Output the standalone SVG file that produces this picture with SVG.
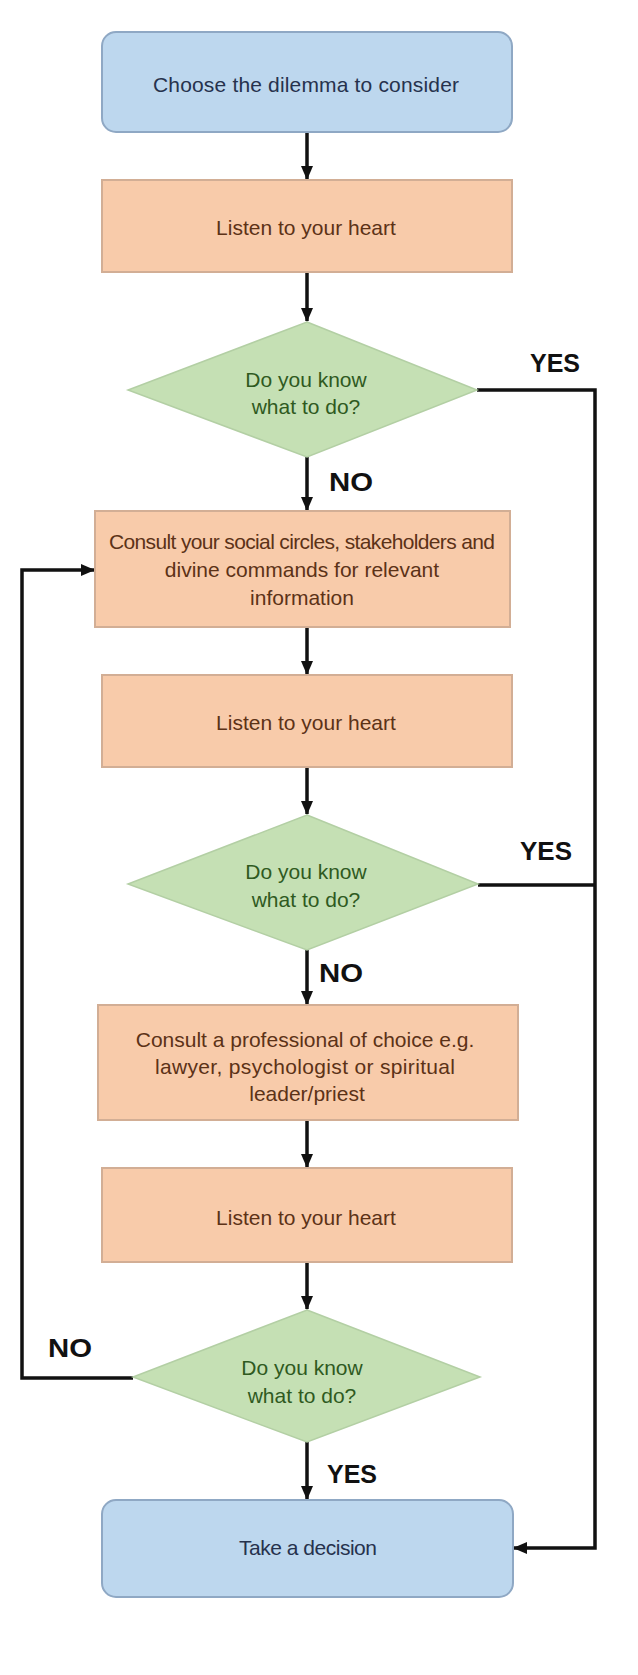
<svg xmlns="http://www.w3.org/2000/svg" width="638" height="1675" viewBox="0 0 638 1675">
<style>
.blue{fill:#bdd7ee;stroke:#8fa8c4;stroke-width:2}
.peach{fill:#f8cbaa;stroke:#d2ae95;stroke-width:2}
.green{fill:#c5e0b4;stroke:#b3cfa4;stroke-width:1.5}
.t{font-family:"Liberation Sans",Arial,sans-serif;font-size:21px;text-anchor:middle}
.tb{fill:#26324d}
.tp{fill:#5c3217}
.tg{fill:#2f5a1f}
.lbl{font-family:"Liberation Sans",Arial,sans-serif;font-size:26px;font-weight:bold;fill:#111}
.c{fill:none;stroke:#111;stroke-width:3.5}
</style>
<defs>
<marker id="ah" markerUnits="userSpaceOnUse" markerWidth="14" markerHeight="14" viewBox="0 0 14 14" refX="13" refY="7" orient="auto">
<path d="M0,1 L14,7 L0,13 Z" fill="#111"/>
</marker>
</defs>
<rect width="638" height="1675" fill="#ffffff"/>
<g id="connectors">
<line class="c" x1="307" y1="132" x2="307" y2="179" marker-end="url(#ah)"/>
<line class="c" x1="307" y1="272" x2="307" y2="321" marker-end="url(#ah)"/>
<line class="c" x1="307" y1="457" x2="307" y2="510" marker-end="url(#ah)"/>
<line class="c" x1="307" y1="627" x2="307" y2="674" marker-end="url(#ah)"/>
<line class="c" x1="307" y1="767" x2="307" y2="814" marker-end="url(#ah)"/>
<line class="c" x1="307" y1="950" x2="307" y2="1004" marker-end="url(#ah)"/>
<line class="c" x1="307" y1="1120" x2="307" y2="1167" marker-end="url(#ah)"/>
<line class="c" x1="307" y1="1262" x2="307" y2="1309" marker-end="url(#ah)"/>
<line class="c" x1="307" y1="1442" x2="307" y2="1499" marker-end="url(#ah)"/>
<polyline class="c" points="477,390 595,390 595,1548 514,1548" marker-end="url(#ah)"/>
<line class="c" x1="478" y1="885" x2="595" y2="885"/>
<polyline class="c" points="133,1378 22,1378 22,570 94,570" marker-end="url(#ah)"/>
<text class="lbl" x="530" y="372" textLength="50" lengthAdjust="spacingAndGlyphs">YES</text>
<text class="lbl" x="329" y="491" textLength="44" lengthAdjust="spacingAndGlyphs">NO</text>
<text class="lbl" x="520" y="860" textLength="52" lengthAdjust="spacingAndGlyphs">YES</text>
<text class="lbl" x="319" y="982" textLength="44" lengthAdjust="spacingAndGlyphs">NO</text>
<text class="lbl" x="48" y="1357" textLength="44" lengthAdjust="spacingAndGlyphs">NO</text>
<text class="lbl" x="327" y="1483" textLength="50" lengthAdjust="spacingAndGlyphs">YES</text>
</g>
<g id="n1">
<rect class="blue" x="102" y="32" width="410" height="100" rx="14"/>
<text class="t tb" x="306" y="92" textLength="306">Choose the dilemma to consider</text>
</g>
<g id="n2">
<rect class="peach" x="102" y="180" width="410" height="92"/>
<text class="t tp" x="306" y="235">Listen to your heart</text>
</g>
<g id="n3">
<polygon class="green" points="307,322 477,390 307,457 128,390"/>
<text class="t tg" x="306" y="387">Do you know</text>
<text class="t tg" x="306" y="414">what to do?</text>
</g>
<g id="n4">
<rect class="peach" x="95" y="511" width="415" height="116"/>
<text class="t tp" x="302" y="549" textLength="386">Consult your social circles, stakeholders and</text>
<text class="t tp" x="302" y="577">divine commands for relevant</text>
<text class="t tp" x="302" y="605">information</text>
</g>
<g id="n5">
<rect class="peach" x="102" y="675" width="410" height="92"/>
<text class="t tp" x="306" y="730">Listen to your heart</text>
</g>
<g id="n6">
<polygon class="green" points="307,815 478,884 307,950 128,884"/>
<text class="t tg" x="306" y="879">Do you know</text>
<text class="t tg" x="306" y="907">what to do?</text>
</g>
<g id="n7">
<rect class="peach" x="98" y="1005" width="420" height="115"/>
<text class="t tp" x="305" y="1047">Consult a professional of choice e.g.</text>
<text class="t tp" x="305" y="1074" textLength="300">lawyer, psychologist or spiritual</text>
<text class="t tp" x="307" y="1101">leader/priest</text>
</g>
<g id="n8">
<rect class="peach" x="102" y="1168" width="410" height="94"/>
<text class="t tp" x="306" y="1225">Listen to your heart</text>
</g>
<g id="n9">
<polygon class="green" points="307,1310 480,1377 307,1442 133,1377"/>
<text class="t tg" x="302" y="1375">Do you know</text>
<text class="t tg" x="302" y="1403">what to do?</text>
</g>
<g id="n10">
<rect class="blue" x="102" y="1500" width="411" height="97" rx="14"/>
<text class="t tb" x="308" y="1555" textLength="138">Take a decision</text>
</g>
</svg>
